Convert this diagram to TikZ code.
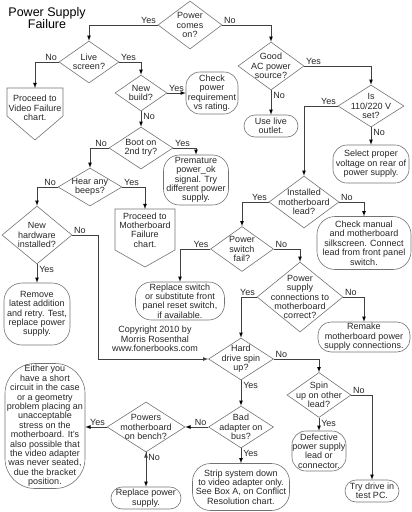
\documentclass[tikz,border=0pt]{standalone}
\usepackage{fontspec}
\setmainfont{Liberation Sans}
\usetikzlibrary{arrows,shapes,positioning}

\begin{document}
\begin{tikzpicture}[x=1pt, y=-1pt, >=latex, line width=0.8pt,
   every node/.style={font=\fontsize{9}{9.4}\selectfont, text=black!85, line width=0.6pt},
   txt/.style={align=center, inner sep=0pt},
   decision/.style={diamond, draw=black!55, inner sep=0pt},
   term/.style={rectangle, draw=black!55, rounded corners=#1, align=center, inner sep=0pt},
   term/.default=12pt,
   offpage/.style={draw=black!55, line width=0.6pt},
   conn/.style={->, draw=black!75},
   hv/.style={to path={-| (\tikztotarget) \tikztonodes}},
   yl/.style={pos=0, anchor=south east, inner sep=1.5pt},
   yr/.style={pos=0, anchor=south west, inner sep=1.5pt},
   yd/.style={pos=0, anchor=north west, inner sep=2pt}]
   \useasboundingbox (0,0) rectangle (412,512);

   % title
   \node[txt, font=\fontsize{12.5}{12.5}\selectfont, text=black] (title) at (47,18) {Power Supply\\Failure};

   % left branch
   \node[decision, minimum width=64, minimum height=48, label={[txt]center:{Power\\comes\\on?}}] (pwr) at (190,25) {};
   \node[decision, minimum width=60, minimum height=42, label={[txt]center:{Live\\screen?}}] (live) at (89,62) {};
   \node[txt] (vidfail) at (35,108) {Proceed to\\Video Failure\\chart.};
   \coordinate (vftop) at (35,88);
   \draw[offpage] (7,88) -- (63,88) -- (63,116) -- (35,140) -- (7,116) -- cycle;
   \node[decision, minimum width=52, minimum height=36, label={[txt]center:{New\\build?}}] (nb) at (141,93) {};
   \node[term=14pt, minimum width=52, minimum height=42] (chk) at (212,93) {Check\\power\\requirement\\vs rating.};
   \node[decision, minimum width=64, minimum height=42, label={[txt]center:{Boot on\\2nd try?}}] (boot) at (141,148) {};
   \node[term=16pt, minimum width=65, minimum height=50] (prem) at (196,180) {Premature\\power\_ok\\signal. Try\\different power\\supply.};
   \node[decision, minimum width=64, minimum height=38, label={[txt]center:{Hear any\\beeps?}}] (hear) at (90,187) {};
   \node[txt] (mbfail) at (145,230) {Proceed to\\Motherboard\\Failure\\chart.};
   \coordinate (mbtop) at (145,209);
   \draw[offpage] (115,209) -- (175,209) -- (175,250) -- (145,267) -- (115,250) -- cycle;
   \node[decision, minimum width=70, minimum height=58, label={[txt]center:{New\\hardware\\installed?}}] (nh) at (37,235) {};
   \node[term=18pt, minimum width=66, minimum height=62] (rem) at (37,314) {Remove\\latest addition\\and retry. Test,\\replace power\\supply.};
   \node[txt] (copyr) at (155,339) {Copyright 2010 by\\Morris Rosenthal\\www.fonerbooks.com};

   % right branch
   \node[decision, minimum width=66, minimum height=48, label={[txt]center:{Good\\AC power\\source?}}] (gac) at (271,66) {};
   \node[term=11pt, minimum width=54, minimum height=22] (outlet) at (271,126) {Use live\\outlet.};
   \node[decision, minimum width=66, minimum height=42, label={[txt]center:{Is\\110/220 V\\set?}}] (v110) at (371,106) {};
   \node[term=14pt, minimum width=76, minimum height=38] (sel) at (371,164) {Select proper\\voltage on rear of\\power supply.};
   \node[decision, minimum width=70, minimum height=52, label={[txt]center:{Installed\\motherboard\\lead?}}] (inst) at (304,202) {};
   \node[term=18pt, minimum width=94, minimum height=53] (man) at (364,243) {Check manual\\and motherboard\\silkscreen. Connect\\lead from front panel\\switch.};
   \node[decision, minimum width=63, minimum height=45, label={[txt]center:{Power\\switch\\fail?}}] (psw) at (242,249) {};
   \node[term=16pt, minimum width=89, minimum height=38] (rsw) at (180,301) {Replace switch\\or substitute front\\panel reset switch,\\if available.};
   \node[decision, minimum width=86, minimum height=70, label={[txt]center:{Power\\supply\\connections to\\motherboard\\correct?}}] (psc) at (300,297) {};
   \node[term=13pt, minimum width=92, minimum height=30] (rmk) at (364,337) {Remake\\motherboard power\\supply connections.};
   \node[decision, minimum width=65, minimum height=42, label={[txt]center:{Hard\\drive spin\\up?}}] (hd) at (241,359) {};
   \node[decision, minimum width=64, minimum height=45, label={[txt]center:{Spin\\up on other\\lead?}}] (spin) at (319,395) {};
   \node[term=14pt, minimum width=54, minimum height=40] (def) at (319,451) {Defective\\power supply\\lead or\\connector.};
   \node[term=11pt, minimum width=54, minimum height=22] (try) at (372,491) {Try drive in\\test PC.};
   \node[decision, minimum width=65, minimum height=42, label={[txt]center:{Bad\\adapter on\\bus?}}] (ba) at (241,427) {};
   \node[term=18pt, minimum width=97, minimum height=47] (strip) at (241,487) {Strip system down\\to video adapter only.\\See Box A, on Conflict\\Resolution chart.};
   \node[decision, minimum width=78, minimum height=50, label={[txt]center:{Powers\\motherboard\\on bench?}}] (pmb) at (146,427) {};
   \node[term=30pt, minimum width=80, minimum height=125] (eith) at (45,426) {Either you\\have a short\\circuit in the case\\or a geometry\\problem placing an\\unacceptable\\stress on the\\motherboard. It's\\also possible that\\the video adapter\\was never seated,\\due the bracket\\position.};
   \node[term=11pt, minimum width=70, minimum height=22] (rps) at (146,498) {Replace power\\supply.};

   \path[conn]
    (pwr.west) edge[hv] node[yl] {Yes} (live)
    (pwr.east) edge[hv] node[yr] {No} (gac)
    (live.west) edge[hv] node[yl] {No} (vftop)
    (live.east) edge[hv] node[yr] {Yes} (nb)
    (nb.east) edge node[yr] {Yes} (chk)
    (nb.south) edge node[yd] {No} (boot)
    (boot.east) edge[hv] node[yr] {Yes} (prem)
    (boot.west) edge[hv] node[yl] {No} (hear)
    (hear.east) edge[hv] node[yr] {Yes} (mbtop)
    (hear.west) edge[hv] node[yl] {No} (nh)
    (nh.south) edge node[yd] {Yes} (rem)
    (gac.south) edge node[yd] {No} (outlet)
    (gac.east) edge[hv] node[yr] {Yes} (v110)
    (v110.south) edge node[yd] {No} (sel)
    (v110.west) edge[hv] node[yl] {Yes} (inst)
    (inst.west) edge[hv] node[yl] {Yes} (psw)
    (inst.east) edge[hv] node[yr] {No} (man)
    (psw.west) edge[hv] node[yl] {Yes} (rsw)
    (psw.east) edge[hv] node[yr] {No} (psc)
    (psc.east) edge[hv] node[yr] {No} (rmk)
    (psc.west) edge[hv] node[yl] {Yes} (hd)
    (hd.east) edge[hv] node[yr] {No} (spin)
    (hd.south) edge node[yd] {Yes} (ba)
    (spin.south) edge node[yd] {Yes} (def)
    (spin.east) edge[hv] node[yr] {No} (try)
    (ba.south) edge node[yd] {Yes} (strip)
    (ba.west) edge node[yl] {No} (pmb)
    (pmb.west) edge node[yl] {Yes} (pmb.west -| eith.east)
    (pmb.south) edge node[yd] {No} (rps);
   \draw[conn] (nh.east) -- node[yr] {No} ++(26,0) |- (hd.west);
\end{tikzpicture}
\end{document}
